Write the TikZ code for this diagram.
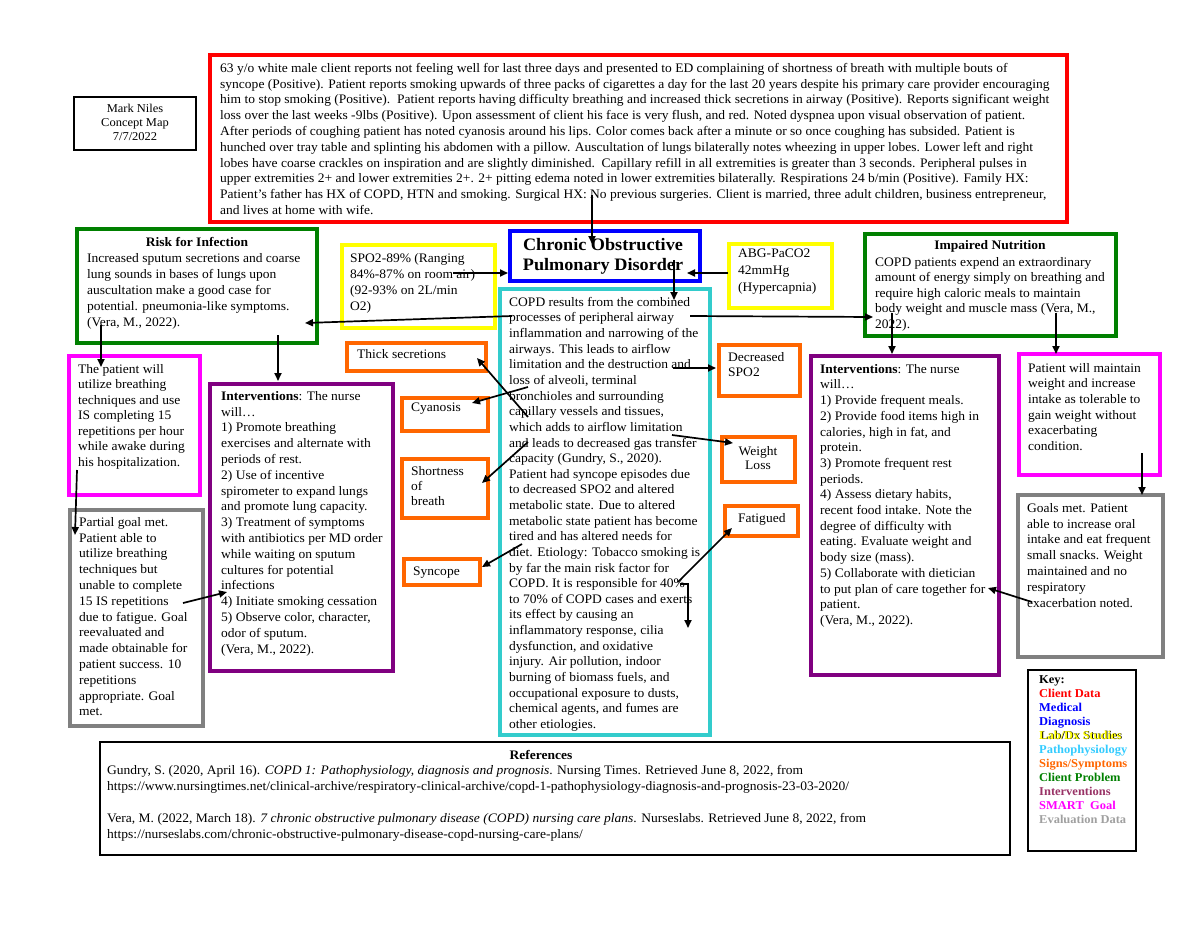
\documentclass[tikz,border=0pt]{standalone}
\usepackage{fontspec}
\setmainfont{Liberation Serif}[FakeStretch=1.04]
\usetikzlibrary{arrows.meta,fit}
\definecolor{clientred}{HTML}{FF0000}
\definecolor{dxblue}{HTML}{0000FF}
\definecolor{labyellow}{HTML}{FFFF00}
\definecolor{pathocyan}{HTML}{33CCCC}
\definecolor{keycyan}{HTML}{33CCFF}
\definecolor{signorange}{HTML}{FF6600}
\definecolor{probgreen}{HTML}{008000}
\definecolor{intpurple}{HTML}{800080}
\definecolor{keypurple}{HTML}{993366}
\definecolor{goalpink}{HTML}{FF00FF}
\definecolor{evalgray}{HTML}{808080}
\definecolor{keygray}{HTML}{A0A0A0}
\newcommand{\bodyfont}{\fontsize{13}{15.7}\selectfont}
\newcommand{\keyfont}{\fontsize{12}{14}\selectfont\bfseries}
\tikzset{
  cmbox/.style={draw=#1,line width=3.5pt,inner sep=0pt},
  blackbox/.style={draw=black,line width=#1,inner sep=0pt},
  txt/.style={anchor=north west,inner sep=0pt,align=left,font=\bodyfont,text=black},
  head/.style={inner sep=0pt,align=center,font=\fontsize{13}{15.7}\selectfont\bfseries},
  arrow/.style={-{Triangle[length=8pt,width=7pt]},line width=1.7pt},
}

\begin{document}
\begin{tikzpicture}[x=1pt,y=-1pt]
  \useasboundingbox[fill=white] (0,0) rectangle (1200,927);
  % boxes
  \node[blackbox=2pt,fit={(74,97)(196,150)}] (author) {};
  \node[cmbox=clientred,fit={(210,55)(1067,222)}] (client) {};
  \node[cmbox=probgreen,fit={(77,229)(317,343)}] (infect) {};
  \node[cmbox=labyellow,fit={(342,245)(495,328)}] (spo) {};
  \node[cmbox=dxblue,fit={(510,231)(700,281)}] (title) {};
  \node[cmbox=labyellow,fit={(729,244)(832,308)}] (abg) {};
  \node[cmbox=pathocyan,fit={(500,289)(710,735)}] (patho) {};
  \node[cmbox=signorange,fit={(347,343)(486,371)}] (thick) {};
  \node[cmbox=signorange,fit={(402,398)(488,431)}] (cyan) {};
  \node[cmbox=signorange,fit={(402,459)(488,518)}] (sob) {};
  \node[cmbox=signorange,fit={(404,559)(480,585)}] (sync) {};
  \node[cmbox=signorange,fit={(719,345)(800,396)}] (dspo) {};
  \node[cmbox=signorange,fit={(722,437)(795,482)}] (wloss) {};
  \node[cmbox=signorange,fit={(725,506)(798,536)}] (fatig) {};
  \node[cmbox=goalpink,fit={(69,356)(200,495)}] (goalL) {};
  \node[cmbox=evalgray,fit={(70,510)(203,726)}] (evalL) {};
  \node[cmbox=intpurple,fit={(210,384)(393,671)}] (intL) {};
  \node[cmbox=probgreen,fit={(865,234)(1116,336)}] (nutri) {};
  \node[cmbox=intpurple,fit={(811,356)(999,675)}] (intR) {};
  \node[cmbox=goalpink,fit={(1019,354)(1160,475)}] (goalR) {};
  \node[cmbox=evalgray,fit={(1018,495)(1163,657)}] (evalR) {};
  \node[blackbox=1.2pt,fit={(100,742)(1010,855)}] (refs) {};
  \node[blackbox=2.5pt,fit={(1028,670)(1136,851)}] (key) {};

  % texts
  \node[inner sep=0pt,align=center,font=\fontsize{12}{14}\selectfont] (author-t) at (135,122.5) {Mark Niles\\Concept Map\\7/7/2022};
  \node[txt,font=\fontsize{13}{15.8}\selectfont] (client-t) at (220,63) {63 y/o white male client reports not feeling well for last three days and presented to ED complaining of shortness of breath with multiple bouts of\\
syncope (Positive). Patient reports smoking upwards of three packs of cigarettes a day for the last 20 years despite his primary care provider encouraging\\
him to stop smoking (Positive).\ \ Patient reports having difficulty breathing and increased thick secretions in airway (Positive). Reports significant weight\\
loss over the last weeks -9lbs (Positive). Upon assessment of client his face is very flush, and red. Noted dyspnea upon visual observation of patient.\\
After periods of coughing patient has noted cyanosis around his lips. Color comes back after a minute or so once coughing has subsided. Patient is\\
hunched over tray table and splinting his abdomen with a pillow. Auscultation of lungs bilaterally notes wheezing in upper lobes. Lower left and right\\
lobes have coarse crackles on inspiration and are slightly diminished.\ \ Capillary refill in all extremities is greater than 3 seconds. Peripheral pulses in\\
upper extremities 2+ and lower extremities 2+. 2+ pitting edema noted in lower extremities bilaterally. Respirations 24 b/min (Positive). Family HX:\\
Patient’s father has HX of COPD, HTN and smoking. Surgical HX: No previous surgeries. Client is married, three adult children, business entrepreneur,\\
and lives at home with wife.};
  \node[head] (infect-h) at (197,242) {Risk for Infection};
  \node[txt,font=\fontsize{13}{16}\selectfont] (infect-t) at (87,253) {Increased sputum secretions and coarse\\lung sounds in bases of lungs upon\\auscultation make a good case for\\potential. pneumonia-like symptoms.\\(Vera, M., 2022).};
  \node[txt,font=\fontsize{13}{16}\selectfont] (spo-t) at (350,253) {SPO2-89\% (Ranging\\84\%-87\% on room air)\\(92-93\% on 2L/min\\O2)};
  \node[inner sep=0pt,align=center,font=\fontsize{17.5}{20}\selectfont\bfseries] (title-t) at (603,256) {Chronic Obstructive\\Pulmonary Disorder};
  \node[txt,font=\fontsize{13}{17}\selectfont] (abg-t) at (738,249) {ABG-PaCO2\\42mmHg\\(Hypercapnia)};
  \node[txt,font=\fontsize{13}{15.63}\selectfont] (patho-t) at (509,297) {COPD results from the combined\\processes of peripheral airway\\inflammation and narrowing of the\\airways. This leads to airflow\\limitation and the destruction and\\loss of alveoli, terminal\\bronchioles and surrounding\\capillary vessels and tissues,\\which adds to airflow limitation\\and leads to decreased gas transfer\\capacity (Gundry, S., 2020).\\Patient had syncope episodes due\\to decreased SPO2 and altered\\metabolic state. Due to altered\\metabolic state patient has become\\tired and has altered needs for\\diet. Etiology: Tobacco smoking is\\by far the main risk factor for\\COPD. It is responsible for 40\%\\to 70\% of COPD cases and exerts\\its effect by causing an\\inflammatory response, cilia\\dysfunction, and oxidative\\injury. Air pollution, indoor\\burning of biomass fuels, and\\occupational exposure to dusts,\\chemical agents, and fumes are\\other etiologies.};
  \node[txt] (thick-t) at (357,349) {Thick secretions};
  \node[txt] (cyan-t) at (411,403) {Cyanosis};
  \node[txt,font=\fontsize{13}{15}\selectfont] (sob-t) at (411,466) {Shortness\\of\\breath};
  \node[txt] (sync-t) at (413,567) {Syncope};
  \node[txt,font=\fontsize{13}{15}\selectfont] (dspo-t) at (728,352) {Decreased\\SPO2};
  \node[inner sep=0pt,align=center,font=\fontsize{13}{14}\selectfont] (wloss-t) at (758,458) {Weight\\Loss};
  \node[txt] (fatig-t) at (738,513) {Fatigued};
  \node[txt,font=\fontsize{13}{15.5}\selectfont] (goalL-t) at (78,364) {The patient will\\utilize breathing\\techniques and use\\IS completing 15\\repetitions per hour\\while awake during\\his hospitalization.};
  \node[txt,font=\fontsize{13}{15.8}\selectfont] (evalL-t) at (79,517) {Partial goal met.\\Patient able to\\utilize breathing\\techniques but\\unable to complete\\15 IS repetitions\\due to fatigue. Goal\\reevaluated and\\made obtainable for\\patient success. 10\\repetitions\\appropriate. Goal\\met.};
  \node[txt,font=\fontsize{13}{15.8}\selectfont] (intL-t) at (221,391) {\textbf{Interventions}: The nurse\\will…\\1) Promote breathing\\exercises and alternate with\\periods of rest.\\2) Use of incentive\\spirometer to expand lungs\\and promote lung capacity.\\3) Treatment of symptoms\\with antibiotics per MD order\\while waiting on sputum\\cultures for potential\\infections\\4) Initiate smoking cessation\\5) Observe color, character,\\odor of sputum.\\(Vera, M., 2022).};
  \node[head] (nutri-h) at (990,246) {Impaired Nutrition};
  \node[txt,font=\fontsize{13}{15.5}\selectfont] (nutri-t) at (875,257) {COPD patients expend an extraordinary\\amount of energy simply on breathing and\\require high caloric meals to maintain\\body weight and muscle mass (Vera, M.,\\2022).};
  \node[txt,font=\fontsize{13}{15.7}\selectfont] (intR-t) at (820,364) {\textbf{Interventions}: The nurse\\will…\\1) Provide frequent meals.\\2) Provide food items high in\\calories, high in fat, and\\protein.\\3) Promote frequent rest\\periods.\\4) Assess dietary habits,\\recent food intake. Note the\\degree of difficulty with\\eating. Evaluate weight and\\body size (mass).\\5) Collaborate with dietician\\to put plan of care together for\\patient.\\(Vera, M., 2022).};
  \node[txt,font=\fontsize{13}{15.6}\selectfont] (goalR-t) at (1028,363) {Patient will maintain\\weight and increase\\intake as tolerable to\\gain weight without\\exacerbating\\condition.};
  \node[txt,font=\fontsize{13}{15.8}\selectfont] (evalR-t) at (1027,503) {Goals met. Patient\\able to increase oral\\intake and eat frequent\\small snacks. Weight\\maintained and no\\respiratory\\exacerbation noted.};
  \node[head] (refs-h) at (541,755) {References};
  \node[txt,font=\fontsize{13}{16}\selectfont] (refs-t) at (107,765) {Gundry, S. (2020, April 16). \textit{COPD 1: Pathophysiology, diagnosis and prognosis}. Nursing Times. Retrieved June 8, 2022, from\\https://www.nursingtimes.net/clinical-archive/respiratory-clinical-archive/copd-1-pathophysiology-diagnosis-and-prognosis-23-03-2020/\\[16pt]Vera, M. (2022, March 18). \textit{7 chronic obstructive pulmonary disease (COPD) nursing care plans}. Nurseslabs. Retrieved June 8, 2022, from\\https://nurseslabs.com/chronic-obstructive-pulmonary-disease-copd-nursing-care-plans/};
  \node[txt,font=\keyfont] (key-t) at (1039,675) {Key:\\\textcolor{clientred}{Client Data}\\\textcolor{dxblue}{Medical}\\\textcolor{dxblue}{Diagnosis}\\\rlap{\hspace{0.8pt}\raisebox{-0.8pt}{Lab/Dx Studies}}\textcolor{labyellow}{Lab/Dx Studies}\\\textcolor{keycyan}{Pathophysiology}\\\textcolor{signorange}{Signs/Symptoms}\\\textcolor{probgreen}{Client Problem}\\\textcolor{keypurple}{Interventions}\\\textcolor{goalpink}{SMART\ \ Goal}\\\textcolor{keygray}{Evaluation Data}};

  % connector ends
  \foreach \n/\x/\y in {cl1/592/195, ti1/592/244, sp1/453/273, ti2/508/273,
      ab1/728/273, ti3/687/273, ti4/674/260, pa1/674/300, pa2/512/316, in1/305/323,
      pa3/690/316, nu1/873/317, in2/101/325, gl1/101/367, in3/278/335, il1/278/381,
      gl2/77/470, el1/75/535, el2/183/603, il2/227/592, pa4/528/417, th1/477/358,
      pa5/528/387, cy1/472/403, pa6/528/442, sb1/482/483, pa7/522/544, sy1/482/567,
      pa8/673/368, ds1/716/368, pa9/672/435, wl1/733/443, pa10/678/582, fa1/732/528,
      pa11/680/584, pa12/688/628, nu2/892/313, ir1/892/354, nu3/1056/313, gr1/1056/354,
      gr2/1142/453, er1/1142/495, er2/1032/602, ir2/988/588}
    \coordinate (\n) at (\x,\y);
  \foreach \a/\b in {cl1/ti1, sp1/ti2, ab1/ti3, ti4/pa1, pa2/in1, pa3/nu1, in2/gl1,
      in3/il1, gl2/el1, el2/il2, pa4/th1, pa5/cy1, pa6/sb1, pa7/sy1, pa8/ds1, pa9/wl1,
      pa10/fa1, nu2/ir1, nu3/gr1, gr2/er1, er2/ir2}
    \draw[arrow] (\a) -- (\b);
  \draw[arrow] (pa11) -| (pa12);
\end{tikzpicture}
\end{document}
